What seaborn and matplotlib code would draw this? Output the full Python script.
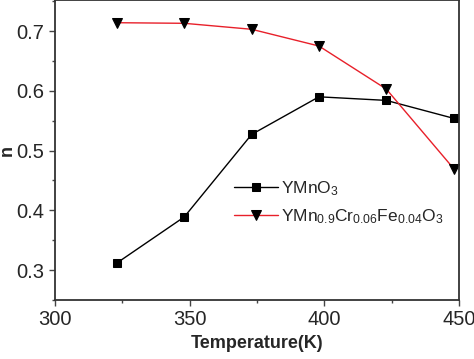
import matplotlib
matplotlib.use("Agg")
import matplotlib.pyplot as plt
import seaborn as sns
import pandas as pd
from matplotlib.ticker import MultipleLocator

temperature = [323, 348, 373, 398, 423, 448]
ymno3 = [0.312, 0.389, 0.527, 0.590, 0.584, 0.554]
doped = [0.714, 0.713, 0.703, 0.675, 0.603, 0.470]
labels = ["YMnO$_3$", "YMn$_{0.9}$Cr$_{0.06}$Fe$_{0.04}$O$_3$"]

sns.set_theme(style="ticks")
plt.rcParams['font.family'] = ['Liberation Sans', 'DejaVu Sans']
plt.rcParams['mathtext.fontset'] = 'custom'
plt.rcParams['mathtext.rm'] = 'Liberation Sans'
plt.rcParams['mathtext.it'] = 'Liberation Sans'

fig = plt.figure(figsize=(4.74, 3.59), dpi=100)
ax = fig.add_axes([55/474, 1 - 300/359, (459-55)/474, 300/359])

df1 = pd.DataFrame({"T": temperature, "n": ymno3})
df2 = pd.DataFrame({"T": temperature, "n": doped})
sns.lineplot(data=df1, x="T", y="n", ax=ax, color="black", lw=1,
             marker="s", markersize=5.5, markeredgecolor="black", label=labels[0])
sns.lineplot(data=df2, x="T", y="n", ax=ax, color="#e8202a", lw=1,
             marker="v", markersize=6.5, markerfacecolor="black",
             markeredgecolor="black", label=labels[1])

ax.set_xlim(300, 450)
ax.set_ylim(0.25, 0.752)
ax.xaxis.set_major_locator(MultipleLocator(50))
ax.xaxis.set_minor_locator(MultipleLocator(25))
ax.yaxis.set_major_locator(MultipleLocator(0.1))
ax.yaxis.set_minor_locator(MultipleLocator(0.05))
ax.tick_params(which="major", direction="out", length=4, width=1, labelsize=14.5, color="#444444")
ax.tick_params(which="minor", direction="out", length=2.5, width=1, color="#444444")
ax.set_yticks([0.3, 0.4, 0.5, 0.6, 0.7])
ax.set_yticklabels(["0.3", "0.4", "0.5", "0.6", "0.7"])
for s in ax.spines.values():
    s.set_linewidth(1.3)
    s.set_color("#333333")
ax.set_xlabel("Temperature(K)", fontsize=13, fontweight="bold", labelpad=4)
ax.set_ylabel("n", fontsize=13, fontweight="bold")
ax.yaxis.set_label_coords(-0.097, 0.5)

leg = ax.legend(loc="upper left", bbox_to_anchor=(0.405, 0.455), frameon=False,
                fontsize=12.5, handlelength=2.5, handletextpad=0.2, labelspacing=0.55)

fig.savefig("out.png", dpi=100)
